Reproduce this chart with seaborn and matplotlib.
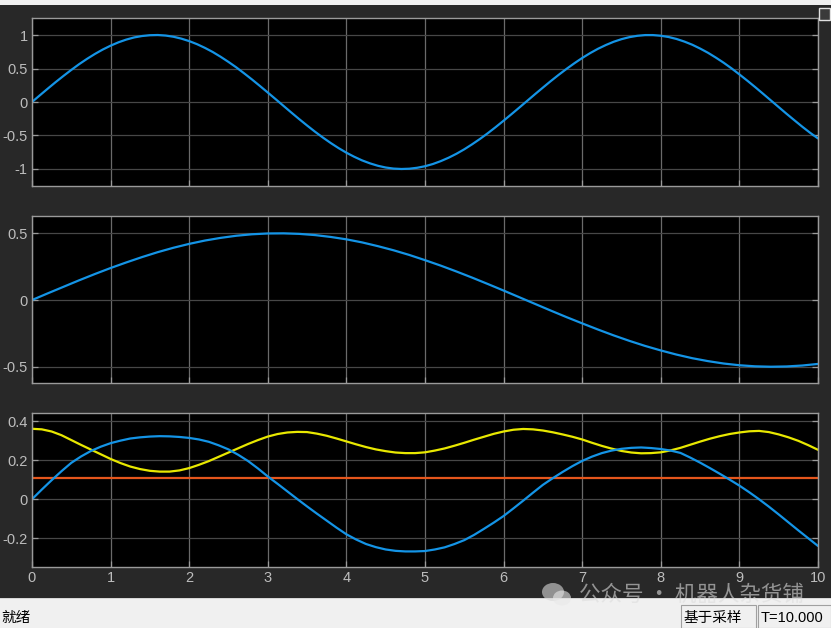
import numpy as np
import pandas as pd
import matplotlib
matplotlib.use("Agg")
import matplotlib.pyplot as plt
from matplotlib.patches import Rectangle, Ellipse
import seaborn as sns

# ---------------- data ----------------
t1 = [round(0.1 * k, 1) for k in range(101)]
sig1 = [0.000, 0.100, 0.199, 0.296, 0.389, 0.479, 0.565, 0.644, 0.717, 0.783,
        0.841, 0.891, 0.932, 0.964, 0.985, 0.997, 1.000, 0.992, 0.974, 0.946,
        0.909, 0.863, 0.808, 0.746, 0.675, 0.598, 0.516, 0.427, 0.335, 0.239,
        0.141, 0.042, -0.058, -0.158, -0.256, -0.351, -0.443, -0.530, -0.612, -0.688,
        -0.757, -0.818, -0.872, -0.916, -0.952, -0.978, -0.994, -1.000, -0.996, -0.982,
        -0.959, -0.926, -0.883, -0.832, -0.773, -0.706, -0.631, -0.551, -0.465, -0.374,
        -0.279, -0.182, -0.083, 0.017, 0.117, 0.215, 0.312, 0.405, 0.494, 0.578,
        0.657, 0.729, 0.794, 0.850, 0.899, 0.938, 0.968, 0.988, 0.999, 0.999,
        0.989, 0.970, 0.941, 0.902, 0.855, 0.798, 0.735, 0.663, 0.586, 0.502,
        0.412, 0.319, 0.223, 0.124, 0.024, -0.076, -0.176, -0.273, -0.369, -0.460, -0.544]

t2 = [round(0.2 * k, 1) for k in range(51)]
sig2 = [0.000, 0.050, 0.099, 0.148, 0.195, 0.240, 0.282, 0.322, 0.359, 0.392,
        0.421, 0.446, 0.466, 0.482, 0.493, 0.499, 0.500, 0.496, 0.487, 0.473,
        0.455, 0.432, 0.404, 0.373, 0.338, 0.299, 0.258, 0.214, 0.168, 0.120,
        0.071, 0.021, -0.029, -0.079, -0.128, -0.175, -0.221, -0.265, -0.306, -0.344,
        -0.378, -0.409, -0.436, -0.458, -0.476, -0.489, -0.497, -0.500, -0.498, -0.491, -0.479]

t3 = [round(0.125 * k, 3) for k in range(81)]
sig3_blue = [0.000, 0.050, 0.098, 0.144, 0.187, 0.220, 0.248, 0.270, 0.288, 0.301,
             0.312, 0.318, 0.322, 0.324, 0.323, 0.320, 0.315, 0.307, 0.295, 0.277,
             0.256, 0.228, 0.196, 0.158, 0.117, 0.079, 0.040, 0.001, -0.037, -0.074,
             -0.110, -0.146, -0.180, -0.207, -0.230, -0.246, -0.258, -0.265, -0.268, -0.268,
             -0.266, -0.258, -0.247, -0.230, -0.210, -0.183, -0.152, -0.120, -0.086, -0.047,
             -0.007, 0.034, 0.074, 0.108, 0.140, 0.170, 0.197, 0.219, 0.237, 0.250,
             0.259, 0.264, 0.266, 0.263, 0.258, 0.250, 0.238, 0.214, 0.188, 0.160,
             0.131, 0.101, 0.070, 0.036, 0.000, -0.038, -0.078, -0.119, -0.160, -0.200, -0.240]
sig3_yellow = [0.362, 0.359, 0.348, 0.329, 0.304, 0.279, 0.255, 0.231, 0.207, 0.186,
               0.168, 0.155, 0.146, 0.142, 0.142, 0.148, 0.160, 0.177, 0.196, 0.218,
               0.240, 0.262, 0.284, 0.304, 0.322, 0.335, 0.343, 0.346, 0.345, 0.337,
               0.326, 0.312, 0.297, 0.282, 0.268, 0.256, 0.247, 0.240, 0.237, 0.237,
               0.241, 0.250, 0.261, 0.275, 0.290, 0.306, 0.321, 0.336, 0.348, 0.357,
               0.361, 0.359, 0.353, 0.344, 0.333, 0.321, 0.307, 0.290, 0.274, 0.260,
               0.248, 0.240, 0.236, 0.237, 0.241, 0.251, 0.264, 0.280, 0.296, 0.311,
               0.324, 0.335, 0.343, 0.349, 0.351, 0.345, 0.333, 0.318, 0.300, 0.278, 0.254]
sig3_orange = [0.108] * 81

x_ticks = [0, 1, 2, 3, 4, 5, 6, 7, 8, 9, 10]
y_ticks1 = [-1, -0.5, 0, 0.5, 1]
y_labels1 = ["-1", "-0.5", "0", "0.5", "1"]
y_ticks2 = [-0.5, 0, 0.5]
y_labels2 = ["-0.5", "0", "0.5"]
y_ticks3 = [-0.2, 0, 0.2, 0.4]
y_labels3 = ["-0.2", "0", "0.2", "0.4"]

status_left = "就绪"
status_mode = "基于采样"
status_time = "T=10.000"
watermark = "公众号 · 机器人杂货铺"

# ---------------- style ----------------
sns.set_theme(style="dark")
plt.rcParams["font.family"] = ["Liberation Sans", "Noto Sans CJK SC", "DejaVu Sans"]
plt.rcParams["axes.unicode_minus"] = False

W, H = 831, 628
BG = "#282828"
BLUE = "#1494E6"
YELLOW = "#E8E800"
ORANGE = "#E5561C"
SPINE = "#9a9a9a"
LABEL = "#bdbdbd"

fig = plt.figure(figsize=(W / 100, H / 100), dpi=100, facecolor=BG)


def rect_px(x0, y0, x1, y1):
    return [x0 / W, 1 - y1 / H, (x1 - x0) / W, (y1 - y0) / H]


ax1 = fig.add_axes(rect_px(32, 18, 818, 186))
ax2 = fig.add_axes(rect_px(32, 216, 818, 383))
ax3 = fig.add_axes(rect_px(32, 413, 818, 567))

df1 = pd.DataFrame({"t": t1, "v": sig1})
df2 = pd.DataFrame({"t": t2, "v": sig2})
df3 = pd.DataFrame({"t": t3, "blue": sig3_blue, "yellow": sig3_yellow,
                    "orange": sig3_orange})

sns.lineplot(data=df1, x="t", y="v", ax=ax1, color=BLUE, linewidth=1.6)
sns.lineplot(data=df2, x="t", y="v", ax=ax2, color=BLUE, linewidth=1.6)
sns.lineplot(data=df3, x="t", y="yellow", ax=ax3, color=YELLOW, linewidth=1.6)
sns.lineplot(data=df3, x="t", y="orange", ax=ax3, color=ORANGE, linewidth=1.6)
sns.lineplot(data=df3, x="t", y="blue", ax=ax3, color=BLUE, linewidth=1.6)

setups = [
    (ax1, (-1.254, 1.254), y_ticks1, y_labels1, False),
    (ax2, (-0.622, 0.630), y_ticks2, y_labels2, False),
    (ax3, (-0.348, 0.443), y_ticks3, y_labels3, True),
]
for ax, ylim, yt, yl, show_x in setups:
    ax.set_facecolor("black")
    ax.set_xlim(0, 10)
    ax.set_ylim(*ylim)
    ax.set_xticks(x_ticks)
    ax.set_yticks(yt)
    ax.set_yticklabels(yl)
    if show_x:
        ax.set_xticklabels([str(v) for v in x_ticks])
    else:
        ax.set_xticklabels([])
    ax.set_xlabel("")
    ax.set_ylabel("")
    ax.xaxis.grid(True, color="#6a6a6a", linewidth=0.9)
    ax.yaxis.grid(True, color="#474747", linewidth=0.9)
    ax.set_axisbelow(True)
    for s in ax.spines.values():
        s.set_visible(True)
        s.set_color(SPINE)
        s.set_linewidth(1.0)
    ax.tick_params(axis="both", which="both", direction="in", length=4, width=0.9,
                   color=SPINE, labelcolor=LABEL, labelsize=10.5, pad=3,
                   left=True, right=True, bottom=True, top=False)

# ---------------- window chrome ----------------
fig.add_artist(Rectangle((0, 1 - 5 / H), 1, 5 / H, transform=fig.transFigure,
                         facecolor="#f0f0f0", edgecolor="none", zorder=5))
# restore icon
fig.add_artist(Rectangle((819 / W, 1 - 20 / H), 11 / W, 12 / H, transform=fig.transFigure,
                         facecolor="#3a3a3a", edgecolor="#e0e0e0", linewidth=1.0, zorder=5))

# status bar
fig.add_artist(Rectangle((0, 0), 1, 30 / H, transform=fig.transFigure,
                         facecolor="#f0f0f0", edgecolor="none", zorder=5))
fig.add_artist(Rectangle((0, 29 / H), 1, 1.5 / H, transform=fig.transFigure,
                         facecolor="#d6d6d6", edgecolor="none", zorder=6))
fig.add_artist(Rectangle((681 / W, 0), 75 / W, 23 / H, transform=fig.transFigure,
                         facecolor="#f0f0f0", edgecolor="#a0a0a0", linewidth=0.8, zorder=6))
fig.add_artist(Rectangle((758 / W, 0), 73 / W, 23 / H, transform=fig.transFigure,
                         facecolor="#f0f0f0", edgecolor="#a0a0a0", linewidth=0.8, zorder=6))
fig.text(1 / W, 1 - 618 / H, status_left, color="black", fontsize=10.5,
         va="center", ha="left", zorder=7)
fig.text(684 / W, 1 - 618 / H, status_mode, color="black", fontsize=10.5,
         va="center", ha="left", zorder=7)
fig.text(761 / W, 1 - 618 / H, status_time, color="black", fontsize=10.5,
         va="center", ha="left", zorder=7)

# watermark
fig.add_artist(Ellipse((553 / W, 1 - 592 / H), 22 / W, 18 / H, transform=fig.transFigure,
                       facecolor="#d8d8d8", edgecolor="none", alpha=0.6, zorder=8))
fig.add_artist(Ellipse((562 / W, 1 - 598 / H), 18 / W, 15 / H, transform=fig.transFigure,
                       facecolor="#e8e8e8", edgecolor="none", alpha=0.6, zorder=8))
fig.text(579 / W, 1 - 595 / H, watermark, color="#dcdcdc", alpha=0.6, fontsize=15.5,
         va="center", ha="left", family=["Noto Sans CJK SC", "DejaVu Sans"], zorder=8)

fig.savefig("out.png", dpi=100, facecolor=BG)
